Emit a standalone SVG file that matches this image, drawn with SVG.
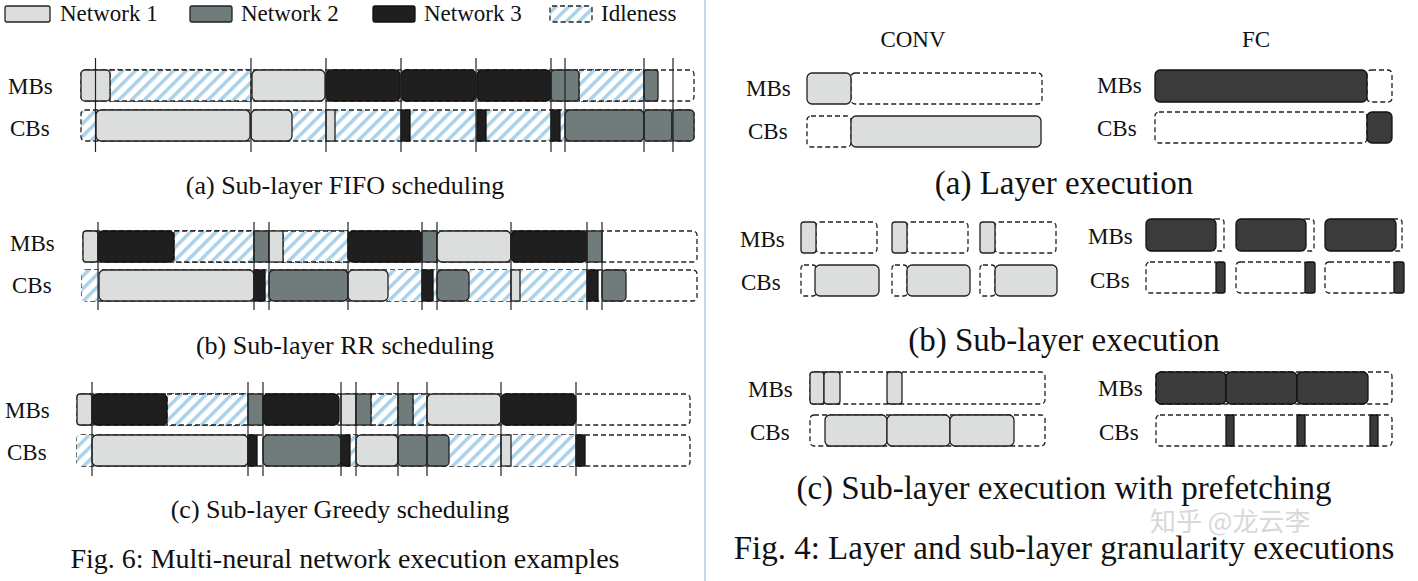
<svg xmlns="http://www.w3.org/2000/svg" width="1418" height="581" viewBox="0 0 1418 581">
<defs>
<pattern id="hat" patternUnits="userSpaceOnUse" width="9" height="9" patternTransform="rotate(45)">
<rect width="9" height="9" fill="#fff"/><rect width="3.5" height="9" fill="#a9d1ea"/>
</pattern>
</defs>
<style>
text{font-family:"Liberation Serif","Times New Roman",serif;fill:#111}
.lab{font-size:23px}
.cap{font-size:26px}
.rcap{font-size:33px}
.fig{font-size:28px}
.l{fill:#dcdddd;stroke:#222;stroke-width:1.3}
.d{fill:#707b7b;stroke:#222;stroke-width:1.3}
.k{fill:#1f1f1f;stroke:#111;stroke-width:1.3}
.q{fill:#3b3b3b;stroke:#111;stroke-width:1.3}
.h{fill:url(#hat);stroke:#222;stroke-width:1.3;stroke-dasharray:5 3}
.hn{fill:url(#hat);stroke:none}
.e{fill:#fff;stroke:#222;stroke-width:1.3;stroke-dasharray:5 3}
.v line{stroke:#222;stroke-width:1.2}
</style>
<rect width="1418" height="581" fill="#fff"/>
<line x1="705" y1="0" x2="705" y2="581" stroke="#c8d8e8" stroke-width="2"/>

<g id="legend">
<rect x="5" y="6" width="45" height="16" class="l" rx="2"/><text x="60" y="21" class="lab">Network 1</text>
<rect x="190" y="6" width="42" height="16" class="d" rx="2"/><text x="241" y="21" class="lab">Network 2</text>
<rect x="373" y="6" width="42" height="16" class="k" rx="2"/><text x="424" y="21" class="lab">Network 3</text>
<rect x="550" y="6" width="42" height="16" class="h" rx="2"/><text x="601" y="21" class="lab">Idleness</text>
</g>

<g id="fifo">
<text x="8" y="94" class="lab">MBs</text><text x="10" y="136" class="lab">CBs</text>
<rect x="81" y="70" width="613" height="31" class="e" rx="4"/>
<rect x="110" y="70" width="141" height="31" class="h"/>
<rect x="579" y="70" width="65" height="31" class="h"/>
<rect x="81" y="70" width="29" height="31" class="l" rx="4"/>
<rect x="252" y="70" width="73" height="31" class="l" rx="5"/>
<rect x="326" y="70" width="74" height="31" class="k" rx="5"/>
<rect x="401" y="70" width="75" height="31" class="k" rx="5"/>
<rect x="477" y="70" width="74" height="31" class="k" rx="5"/>
<rect x="551" y="70" width="28" height="31" class="d" rx="4"/>
<rect x="644" y="70" width="14" height="31" class="d" rx="3"/>
<rect x="81" y="110" width="613" height="31" class="h" rx="4"/>
<rect x="96" y="110" width="154" height="31" class="l" rx="5"/>
<rect x="251" y="110" width="41" height="31" class="l" rx="5"/>
<rect x="326" y="110" width="9" height="31" class="l"/>
<rect x="401" y="110" width="9" height="31" class="k"/>
<rect x="477" y="110" width="9" height="31" class="k"/>
<rect x="551" y="110" width="9" height="31" class="k"/>
<rect x="565" y="110" width="79" height="31" class="d" rx="5"/>
<rect x="644" y="110" width="28" height="31" class="d" rx="4"/>
<rect x="672" y="110" width="22" height="31" class="d" rx="4"/>
<g class="v"><line x1="95.5" y1="58" x2="95.5" y2="152"/><line x1="251" y1="58" x2="251" y2="152"/><line x1="326" y1="58" x2="326" y2="152"/><line x1="401" y1="58" x2="401" y2="152"/><line x1="476" y1="58" x2="476" y2="152"/><line x1="551" y1="58" x2="551" y2="152"/><line x1="565" y1="58" x2="565" y2="152"/><line x1="644" y1="58" x2="644" y2="152"/><line x1="673" y1="58" x2="673" y2="152"/></g>
<text x="345" y="194" class="cap" text-anchor="middle">(a) Sub-layer FIFO scheduling</text>
</g>

<g id="rr">
<text x="10" y="251" class="lab">MBs</text><text x="12" y="293" class="lab">CBs</text>
<rect x="83" y="231" width="614" height="31" class="e" rx="4"/>
<rect x="174" y="231" width="80" height="31" class="h"/>
<rect x="283" y="231" width="65" height="31" class="h"/>
<rect x="83" y="231" width="15" height="31" class="l" rx="3"/>
<rect x="98" y="231" width="76" height="31" class="k" rx="5"/>
<rect x="254" y="231" width="15" height="31" class="d"/>
<rect x="269" y="231" width="14" height="31" class="l"/>
<rect x="348" y="231" width="74" height="31" class="k" rx="5"/>
<rect x="422" y="231" width="15" height="31" class="d"/>
<rect x="437" y="231" width="74" height="31" class="l" rx="5"/>
<rect x="511" y="231" width="76" height="31" class="k" rx="5"/>
<rect x="587" y="231" width="15" height="31" class="d"/>
<rect x="82" y="270" width="615" height="31" class="e" rx="4"/>
<rect x="82" y="270" width="17" height="31" class="hn"/>
<rect x="265" y="270" width="4" height="31" class="hn"/>
<rect x="388" y="270" width="49" height="31" class="hn"/>
<rect x="469" y="270" width="118" height="31" class="hn"/>
<rect x="99" y="270" width="155" height="31" class="l" rx="5"/>
<rect x="254" y="270" width="11" height="31" class="k"/>
<rect x="269" y="270" width="79" height="31" class="d" rx="5"/>
<rect x="348" y="270" width="40" height="31" class="l" rx="5"/>
<rect x="422" y="270" width="11" height="31" class="k"/>
<rect x="437" y="270" width="32" height="31" class="d" rx="5"/>
<rect x="511" y="270" width="9" height="31" class="l"/>
<rect x="587" y="270" width="11" height="31" class="k"/>
<rect x="602" y="270" width="24" height="31" class="d" rx="4"/>
<g class="v"><line x1="98" y1="222" x2="98" y2="310"/><line x1="254" y1="222" x2="254" y2="310"/><line x1="269" y1="222" x2="269" y2="310"/><line x1="348" y1="222" x2="348" y2="310"/><line x1="422" y1="222" x2="422" y2="310"/><line x1="437" y1="222" x2="437" y2="310"/><line x1="511" y1="222" x2="511" y2="310"/><line x1="587" y1="222" x2="587" y2="310"/><line x1="602" y1="222" x2="602" y2="310"/></g>
<text x="345" y="354" class="cap" text-anchor="middle">(b) Sub-layer RR scheduling</text>
</g>

<g id="greedy">
<text x="5" y="418" class="lab">MBs</text><text x="7" y="460" class="lab">CBs</text>
<rect x="77" y="394" width="613" height="31" class="e" rx="4"/>
<rect x="167" y="394" width="81" height="31" class="h"/>
<rect x="371" y="394" width="27" height="31" class="h"/>
<rect x="413" y="394" width="14" height="31" class="h"/>
<rect x="77" y="394" width="15" height="31" class="l" rx="3"/>
<rect x="92" y="394" width="75" height="31" class="k" rx="5"/>
<rect x="248" y="394" width="15" height="31" class="d"/>
<rect x="263" y="394" width="76" height="31" class="k" rx="5"/>
<rect x="341" y="394" width="15" height="31" class="l"/>
<rect x="356" y="394" width="15" height="31" class="d"/>
<rect x="398" y="394" width="15" height="31" class="d"/>
<rect x="427" y="394" width="74" height="31" class="l" rx="5"/>
<rect x="501" y="394" width="75" height="31" class="k" rx="5"/>
<rect x="77" y="435" width="613" height="31" class="e" rx="4"/>
<rect x="77" y="435" width="15" height="31" class="hn"/>
<rect x="350" y="435" width="6" height="31" class="hn"/>
<rect x="449" y="435" width="127" height="31" class="hn"/>
<rect x="92" y="435" width="156" height="31" class="l" rx="5"/>
<rect x="248" y="435" width="9" height="31" class="k"/>
<rect x="263" y="435" width="78" height="31" class="d" rx="5"/>
<rect x="341" y="435" width="9" height="31" class="k"/>
<rect x="356" y="435" width="42" height="31" class="l" rx="5"/>
<rect x="398" y="435" width="29" height="31" class="d" rx="4"/>
<rect x="427" y="435" width="22" height="31" class="d" rx="4"/>
<rect x="501" y="435" width="10" height="31" class="l"/>
<rect x="576" y="435" width="9" height="31" class="k"/>
<g class="v"><line x1="92" y1="382" x2="92" y2="476"/><line x1="248" y1="382" x2="248" y2="476"/><line x1="263" y1="382" x2="263" y2="476"/><line x1="341" y1="382" x2="341" y2="476"/><line x1="356" y1="382" x2="356" y2="476"/><line x1="398" y1="382" x2="398" y2="476"/><line x1="427" y1="382" x2="427" y2="476"/><line x1="501" y1="382" x2="501" y2="476"/><line x1="576" y1="382" x2="576" y2="476"/></g>
<text x="340" y="518" class="cap" text-anchor="middle">(c) Sub-layer Greedy scheduling</text>
</g>
<text x="345" y="568" class="fig" text-anchor="middle">Fig. 6: Multi-neural network execution examples</text>

<g id="layer">
<text x="913" y="47" class="lab" text-anchor="middle">CONV</text>
<text x="1256" y="47" class="lab" text-anchor="middle">FC</text>
<text x="746" y="96" class="lab">MBs</text><text x="748" y="139" class="lab">CBs</text>
<rect x="851" y="73" width="191" height="31" class="e" rx="4"/>
<rect x="807" y="73" width="44" height="31" class="l" rx="5"/>
<rect x="807" y="116" width="44" height="31" class="e" rx="4"/>
<rect x="851" y="116" width="190" height="31" class="l" rx="5"/>
<text x="1097" y="93" class="lab">MBs</text><text x="1097" y="136" class="lab">CBs</text>
<rect x="1367" y="70" width="25" height="32" class="e" rx="4"/>
<rect x="1155" y="70" width="212" height="32" class="q" rx="5"/>
<rect x="1155" y="112" width="212" height="31" class="e" rx="4"/>
<rect x="1367" y="112" width="25" height="31" class="q" rx="5"/>
<text x="1064" y="194" class="rcap" text-anchor="middle">(a) Layer execution</text>
</g>

<g id="sublayer">
<text x="740" y="247" class="lab">MBs</text><text x="741" y="290" class="lab">CBs</text>
<rect x="816" y="222" width="61" height="31" class="e" rx="4"/><rect x="801" y="222" width="15" height="31" class="l" rx="3"/>
<rect x="907" y="222" width="61" height="31" class="e" rx="4"/><rect x="892" y="222" width="15" height="31" class="l" rx="3"/>
<rect x="995" y="222" width="61" height="31" class="e" rx="4"/><rect x="980" y="222" width="15" height="31" class="l" rx="3"/>
<rect x="801" y="265" width="15" height="31" class="e" rx="3"/><rect x="815" y="265" width="64" height="31" class="l" rx="5"/>
<rect x="892" y="265" width="15" height="31" class="e" rx="3"/><rect x="907" y="265" width="63" height="31" class="l" rx="5"/>
<rect x="980" y="265" width="15" height="31" class="e" rx="3"/><rect x="995" y="265" width="62" height="31" class="l" rx="5"/>
<text x="1088" y="244" class="lab">MBs</text><text x="1090" y="288" class="lab">CBs</text>
<rect x="1212" y="219" width="12" height="32" class="e" rx="3"/><rect x="1146" y="219" width="70" height="32" class="q" rx="5"/>
<rect x="1302" y="219" width="12" height="32" class="e" rx="3"/><rect x="1236" y="219" width="70" height="32" class="q" rx="5"/>
<rect x="1390" y="219" width="12" height="32" class="e" rx="3"/><rect x="1325" y="219" width="71" height="32" class="q" rx="5"/>
<rect x="1146" y="262" width="72" height="31" class="e" rx="4"/><rect x="1216" y="262" width="9" height="31" class="q" rx="2"/>
<rect x="1236" y="262" width="71" height="31" class="e" rx="4"/><rect x="1305" y="262" width="10" height="31" class="q" rx="2"/>
<rect x="1325" y="262" width="71" height="31" class="e" rx="4"/><rect x="1394" y="262" width="10" height="31" class="q" rx="2"/>
<text x="1064" y="351" class="rcap" text-anchor="middle">(b) Sub-layer execution</text>
</g>

<g id="prefetch">
<text x="748" y="397" class="lab">MBs</text><text x="750" y="440" class="lab">CBs</text>
<rect x="810" y="372" width="235" height="32" class="e" rx="4"/>
<rect x="810" y="372" width="14" height="32" class="l" rx="3"/>
<rect x="824" y="372" width="16" height="32" class="l" rx="3"/>
<rect x="887" y="372" width="15" height="32" class="l" rx="3"/>
<rect x="810" y="415" width="235" height="31" class="e" rx="4"/>
<rect x="825" y="415" width="62" height="31" class="l" rx="5"/>
<rect x="887" y="415" width="63" height="31" class="l" rx="5"/>
<rect x="950" y="415" width="64" height="31" class="l" rx="5"/>
<text x="1098" y="396" class="lab">MBs</text><text x="1099" y="440" class="lab">CBs</text>
<rect x="1156" y="372" width="236" height="32" class="e" rx="4"/>
<rect x="1156" y="372" width="70" height="32" class="q" rx="5"/>
<rect x="1226" y="372" width="71" height="32" class="q" rx="5"/>
<rect x="1297" y="372" width="71" height="32" class="q" rx="5"/>
<rect x="1156" y="415" width="236" height="31" class="e" rx="4"/>
<rect x="1226" y="415" width="8" height="31" class="q" rx="2"/>
<rect x="1297" y="415" width="8" height="31" class="q" rx="2"/>
<rect x="1370" y="415" width="8" height="31" class="q" rx="2"/>
<text x="1064" y="499" class="rcap" text-anchor="middle">(c) Sub-layer execution with prefetching</text>
</g>
<text x="1150" y="531" font-size="26" style="font-family:'Noto Sans CJK SC',sans-serif;fill:#d8d8d8">知乎 @龙云李</text>
<text x="1064" y="559" class="rcap" text-anchor="middle">Fig. 4: Layer and sub-layer granularity executions</text>
</svg>
